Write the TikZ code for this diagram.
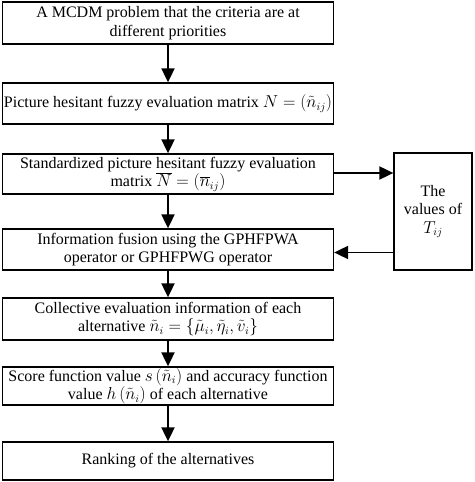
\documentclass[tikz,border=0pt]{standalone}
\usepackage{fontspec}
\setmainfont{Liberation Serif}
\usetikzlibrary{arrows.meta}
\usetikzlibrary{positioning}

\begin{document}
\begin{tikzpicture}[x=1pt,y=1pt,
  box/.style={rectangle,draw=black,line width=1.3pt,minimum width=331pt,minimum height=40pt,inner sep=0pt,align=center,font=\fontsize{16}{18.5}\selectfont,text=black},
  arr/.style={-{Triangle[width=13pt,length=14pt]},line width=1.9pt,black}]
\useasboundingbox (0,0) rectangle (474,482);
\node[box,minimum height=42pt] (prob) at (168,459) {A MCDM problem that the criteria are at\\different priorities};
\node[box,minimum height=41pt] (phfm) at (168,378.5) {Picture hesitant fuzzy evaluation matrix $N=\left(\tilde{n}_{ij}\right)$};
\node[box] (std) at (168,308) {Standardized picture hesitant fuzzy evaluation\\matrix $\overline{N}=\left(\overline{n}_{ij}\right)$};
\node[box,minimum height=41pt] (fus) at (168,232.5) {Information fusion using the GPHFPWA\\operator or GPHFPWG operator};
\node[box,minimum height=42pt] (coll) at (168,163) {Collective evaluation information of each\\alternative $\tilde{n}_i=\left\{\tilde{\mu}_i,\tilde{\eta}_i,\tilde{v}_i\right\}$};
\node[box,minimum height=38pt] (score) at (168,96) {Score function value $s\left(\tilde{n}_i\right)$ and accuracy function\\value $h\left(\tilde{n}_i\right)$ of each alternative};
\node[box,minimum height=38pt] (rank) at (168,21) {Ranking of the alternatives};
\node[box,minimum width=78pt,minimum height=117pt] (tval) at (433,270.5) {The\\values of\\$T_{ij}$};

\draw[arr] (prob) -- (phfm);
\draw[arr] (phfm) -- (std);
\draw[arr] (std) -- (fus);
\draw[arr] (fus) -- (coll);
\draw[arr] (coll) -- (score);
\draw[arr] (score) -- (rank);
\draw[arr] ([yshift=1pt]std.east) -- ([yshift=1pt]std.east -| tval.west);
\draw[arr] ([yshift=-3pt]tval.west |- fus.east) -- ([yshift=-3pt]fus.east);
\end{tikzpicture}
\end{document}
